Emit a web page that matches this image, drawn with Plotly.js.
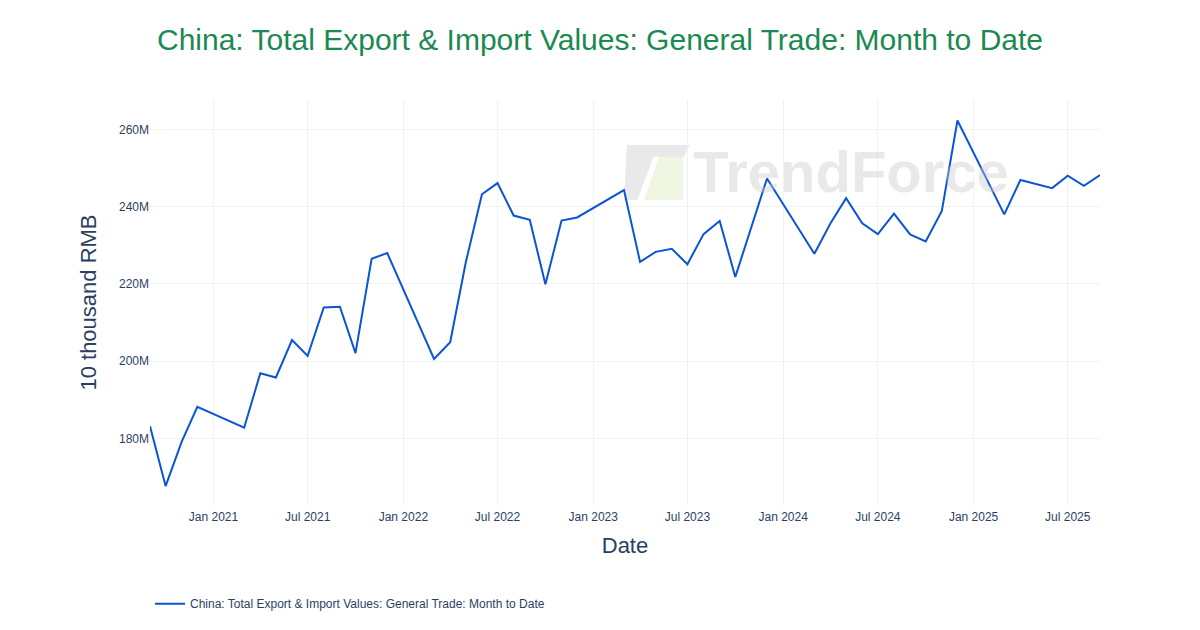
<!DOCTYPE html>
<html>
<head>
<meta charset="utf-8">
<script src="https://cdn.plot.ly/plotly-3.0.1.min.js"></script>
<style>html,body{margin:0;padding:0;background:#fff;}#chart{width:1200px;height:630px;}</style>
</head>
<body>
<div id="chart"></div>
<script>
const seriesName = "China: Total Export & Import Values: General Trade: Month to Date";
const months = [
  "2020-09-01","2020-10-01","2020-11-01","2020-12-01",
  "2021-03-01","2021-04-01","2021-05-01","2021-06-01","2021-07-01","2021-08-01","2021-09-01","2021-10-01","2021-11-01","2021-12-01",
  "2022-03-01","2022-04-01","2022-05-01","2022-06-01","2022-07-01","2022-08-01","2022-09-01","2022-10-01","2022-11-01","2022-12-01",
  "2023-03-01","2023-04-01","2023-05-01","2023-06-01","2023-07-01","2023-08-01","2023-09-01","2023-10-01","2023-12-01",
  "2024-03-01","2024-04-01","2024-05-01","2024-06-01","2024-07-01","2024-08-01","2024-09-01","2024-10-01","2024-11-01","2024-12-01",
  "2025-03-01","2025-04-01","2025-06-01","2025-07-01","2025-08-01","2025-09-01"
];
const valuesM = [
  183.2,167.7,179.2,188.2,
  182.8,196.9,195.8,205.5,201.4,213.9,214.1,202.1,226.5,228.0,
  200.6,204.9,225.6,243.2,246.1,237.7,236.6,219.9,236.4,237.2,
  244.3,225.7,228.3,229.1,225.1,232.9,236.3,221.8,247.3,
  227.8,235.7,242.2,235.7,232.9,238.2,232.8,231.0,238.9,262.3,
  238.0,246.9,244.8,248.0,245.4,248.2
];
const values = valuesM.map(v => v * 1e6);

const trace = {
  x: months, y: values, type: "scatter", mode: "lines", name: seriesName,
  line: {color: "#0a55d6", width: 2}, showlegend: true
};

const layout = {
  width: 1200, height: 630,
  paper_bgcolor: "#ffffff", plot_bgcolor: "#ffffff",
  font: {family: "Arial, 'Liberation Sans', sans-serif", color: "#2a3f5f", size: 12},
  title: {text: "China: Total Export & Import Values: General Trade: Month to Date",
          font: {size: 30, color: "#1a8a50"}, x: 0.5, xanchor: "center", y: 0.938, yanchor: "middle"},
  margin: {l: 150, r: 100, t: 100, b: 125},
  xaxis: {
    type: "date", range: ["2020-09-01", "2025-09-01"],
    title: {text: "Date", font: {size: 22}, standoff: 14},
    automargin: true,
    gridcolor: "#f1f2f4", showline: false, zeroline: false,
    dtick: "M6", tick0: "2021-01-01", tickformat: "%b %Y",
    ticks: "outside", ticklen: 1, tickcolor: "rgba(0,0,0,0)"
  },
  yaxis: {
    range: [162.8e6, 267.6e6],
    title: {text: "10 thousand RMB", font: {size: 22}},
    gridcolor: "#f1f2f4", zeroline: false, showline: false,
    tickvals: [180e6, 200e6, 220e6, 240e6, 260e6],
    ticktext: ["180M", "200M", "220M", "240M", "260M"]
  },
  legend: {orientation: "h", x: 0, xanchor: "left", y: -0.208, yanchor: "top", font: {size: 12}},
  annotations: [{
    xref: "paper", yref: "paper", x: 0.569, y: 0.823, xanchor: "left", yanchor: "middle",
    text: "<b>TrendForce</b>", showarrow: false,
    font: {size: 58, color: "rgba(200,200,200,0.4)", family: "Arial, 'Liberation Sans', sans-serif"}
  }],
  shapes: [
    {type: "path", xref: "paper", yref: "paper", layer: "below",
     path: "M 0.502 0.889 L 0.568 0.889 L 0.562 0.860 L 0.530 0.860 L 0.513 0.753 L 0.499 0.753 Z",
     fillcolor: "rgba(200,200,200,0.4)", line: {width: 0}},
    {type: "path", xref: "paper", yref: "paper", layer: "below",
     path: "M 0.536 0.860 L 0.561 0.860 L 0.561 0.753 L 0.520 0.753 Z",
     fillcolor: "rgba(220,235,190,0.45)", line: {width: 0}}
  ]
};

Plotly.newPlot("chart", [trace], layout, {displayModeBar: false, staticPlot: true});
</script>
</body>
</html>
